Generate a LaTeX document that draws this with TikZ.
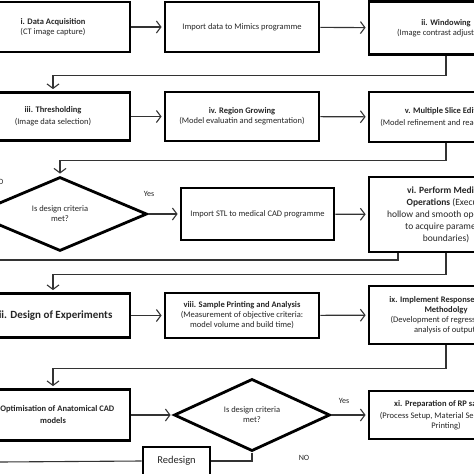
\documentclass[tikz,border=0pt]{standalone}
\usepackage{fontspec}
\setmainfont{Carlito}
\usetikzlibrary{shapes.geometric, arrows.meta}

\begin{document}
\begin{tikzpicture}[
    x=1pt, y=-1pt,
    every node/.style={font=\fontsize{8.5}{10}\selectfont, text=black!85},
    stepbox/.style={
        rectangle, draw=black, line width=2.8pt, fill=white,
        minimum width=154pt, align=center, inner sep=2pt
    },
    decision/.style={
        diamond, draw=black, line width=2.8pt, fill=white,
        minimum width=174pt, minimum height=74pt,
        inner sep=0pt, align=center
    },
    flowline/.style={draw=black!80, line width=1.1pt},
    flowarrow/.style={
        flowline, shorten >=2pt,
        -{Straight Barb[length=4.5pt, width=12pt, line width=1.1pt]}
    },
    lbl/.style={font=\fontsize{8}{9.5}\selectfont}
]

%% ── Frame of the visible part ─────────────────────────────────────
\useasboundingbox (0,0) rectangle (474,474);
\clip (0,0) rectangle (474,474);

%% ── Row 1 ──────────────────────────────────────────────────────────
\node[stepbox, minimum height=50pt] (acq) at (53,27)
    {\textbf{i. Data Acquisition}\\(CT image capture)};
\node[stepbox, minimum height=50pt] (imp) at (242,27)
    {Import data to Mimics programme};
\node[stepbox, minimum height=53pt] (win) at (446,28)
    {\textbf{ii. Windowing}\\(Image contrast adjustment)};

%% ── Row 2 ──────────────────────────────────────────────────────────
\node[stepbox, minimum height=48pt] (thr) at (53,116.5)
    {\textbf{iii. Thresholding}\\[2pt](Image data selection)};
\node[stepbox, minimum height=49pt] (reg) at (242,116.5)
    {\textbf{iv. Region Growing}\\(Model evaluatin and segmentation)};
\node[stepbox, minimum height=50pt] (mse) at (446,117)
    {\textbf{v. Multiple Slice Editing}\\[2pt](Model refinement and readjustment)};

%% ── Row 3 ──────────────────────────────────────────────────────────
\node[decision] (dec1) at (60,214) {Is design criteria\\met?};
\node[stepbox, minimum width=153pt, minimum height=52pt] (stl) at (257.5,214)
    {Import STL to medical CAD programme};
\node[stepbox, minimum height=75pt,
      font=\fontsize{9.5}{12}\selectfont] (med) at (446,214.5)
    {\textbf{vi. Perform Medical}\\\textbf{Operations} (Execute\\hollow and smooth operations\\to acquire parameter\\boundaries)};

%% ── Row 4 ──────────────────────────────────────────────────────────
\node[stepbox, minimum height=44pt,
      font=\fontsize{11}{13}\selectfont] (doe) at (53,315.5)
    {\textbf{vii. Design of Experiments}};
\node[stepbox, minimum height=45pt] (spa) at (242,315.5)
    {\textbf{viii. Sample Printing and Analysis}\\(Measurement of objective criteria:\\model volume and build time)};
\node[stepbox, minimum height=58pt] (rsm) at (446,315)
    {\textbf{ix. Implement Response Surface}\\\textbf{Methodolgy}\\(Development of regression and\\analysis of output)};

%% ── Row 5 ──────────────────────────────────────────────────────────
\node[stepbox, minimum height=51pt] (opt) at (53,415)
    {\textbf{x. Optimisation of Anatomical CAD}\\[2pt]\textbf{models}};
\node[decision, minimum width=156pt, minimum height=72pt] (dec2) at (252,415)
    {Is design criteria\\met?};
\node[stepbox, minimum height=48pt] (rps) at (446,415)
    {\textbf{xi. Preparation of RP samples}\\[2pt](Process Setup, Material Selection and\\Printing)};
\node[stepbox, minimum width=67pt, minimum height=28pt,
      font=\fontsize{10.5}{12}\selectfont] (red) at (176.5,461) {Redesign};

%% Labels
\node[lbl, anchor=east] (no1) at (7,182) {NO};
\node[lbl] (yes1) at (149,194) {Yes};
\node[lbl] (yes2) at (344,401) {Yes};
\node[lbl] (no2) at (304,458) {NO};

%% Loose ends at the left edge
\coordinate (out1) at (0,260);
\coordinate (out2) at (0,462);

%% ── Connectors ─────────────────────────────────────────────────────
\draw[flowarrow] (acq) -- (imp);
\draw[flowarrow] (imp) -- (win);
\draw[flowarrow] (win.south) -- ++(0,20) -| (thr.north);
\draw[flowarrow] (thr) -- (reg);
\draw[flowarrow] (reg) -- (mse);
\draw[flowarrow] (mse.south) -- ++(0,17) -| (dec1.north);
\draw[flowarrow] (dec1) -- (stl);
\draw[flowarrow] (stl) -- (med);
\draw[flowline] ([xshift=-48pt]med.south) |- (out1);
\draw[flowarrow] (med.south) -- ++(0,21) -| (doe.north);
\draw[flowarrow] (doe) -- (spa);
\draw[flowarrow] (spa) -- (rsm);
\draw[flowarrow] (rsm.south) -- ++(0,23) -| (opt.north);
\draw[flowarrow] (opt) -- (dec2);
\draw[flowarrow] (dec2) -- (rps);
\draw[flowline] (dec2.south) |- (red.east);
\draw[flowline] (red.west) -- (out2);

\end{tikzpicture}
\end{document}
